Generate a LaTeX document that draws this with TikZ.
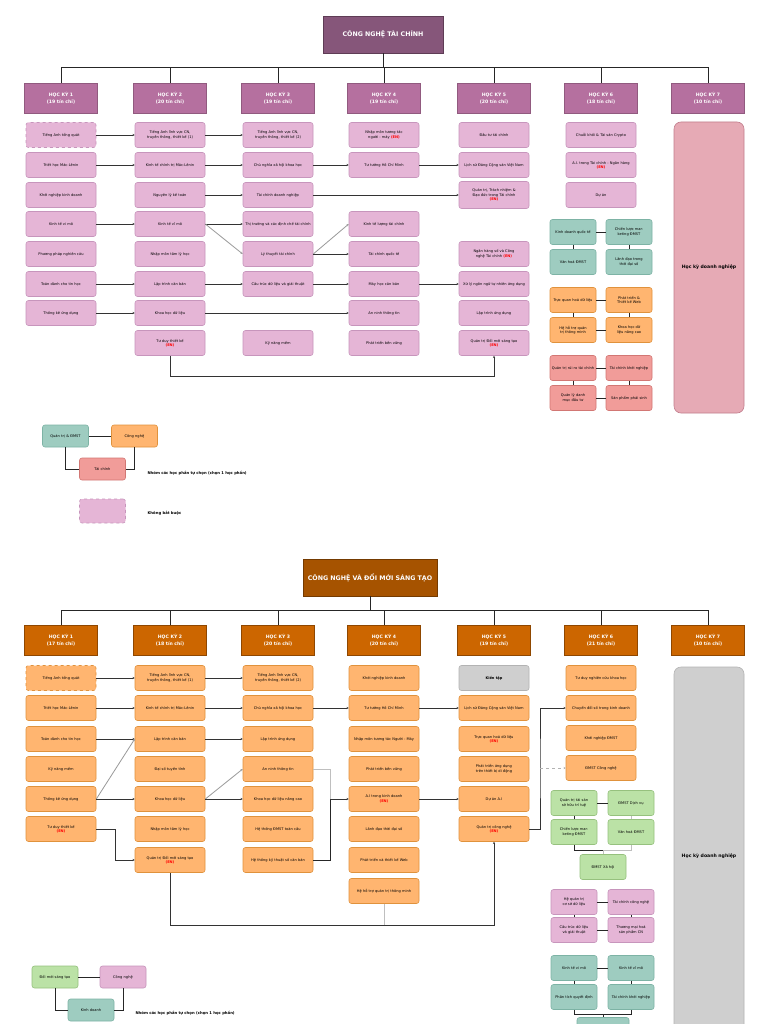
\documentclass[tikz,border=0pt]{standalone}
\usepackage{fontspec}
\setmainfont{DejaVu Sans}
\usetikzlibrary{arrows.meta}
\definecolor{tA}{HTML}{86567A}\definecolor{hA}{HTML}{B5709F}
\definecolor{pk}{HTML}{E5B5D6}\definecolor{pkd}{HTML}{C795BC}
\definecolor{tB}{HTML}{A65300}\definecolor{hB}{HTML}{CC6600}
\definecolor{orf}{HTML}{FFB570}\definecolor{ord}{HTML}{E0923C}
\definecolor{tef}{HTML}{9ECCC0}\definecolor{ted}{HTML}{7DB3A5}
\definecolor{grf}{HTML}{BBE2A6}\definecolor{grd}{HTML}{96C17E}
\definecolor{rdf}{HTML}{F19C99}\definecolor{rdd}{HTML}{D27774}
\definecolor{gyf}{HTML}{CFCFCF}\definecolor{gyd}{HTML}{B3B3B3}
\definecolor{bigA}{HTML}{E6AAB5}\definecolor{bigAd}{HTML}{C27E8D}
\newcommand{\EN}{\textcolor{red}{\textbf{(EN)}}}
\tikzset{
 box/.style={rounded corners=2.5pt, minimum width=70pt, minimum height=25pt, text width=66pt, align=center, inner sep=1pt, font=\fontsize{3.6}{4.4}\selectfont, line width=0.6pt},
 gbox/.style={box, minimum width=46pt, text width=44pt},
 pbox/.style={box, fill=pk, draw=pkd},
 obox/.style={box, fill=orf, draw=ord},
 hdrA/.style={minimum width=70pt, minimum height=30pt, text width=66pt, align=center, fill=hA, draw=hA!80!black, text=white, font=\fontsize{4.6}{7}\selectfont\bfseries, line width=0.5pt},
 hdrB/.style={hdrA, fill=hB, draw=hB!70!black},
 ttl/.style={minimum height=37pt, align=center, text=white, font=\fontsize{6.3}{8}\selectfont\bfseries, line width=0.6pt},
 arr/.style={-{Stealth[length=2.2pt,width=2.2pt]}, line width=0.8pt, draw=black!80},
 garr/.style={arr, draw=black!40},
 ln/.style={line width=0.9pt, draw=black!85},
 gln/.style={line width=0.9pt, draw=black!25},
}
\begin{document}
\begin{tikzpicture}[x=1pt,y=-1pt]
\useasboundingbox (0,0) rectangle (768,1024);
\clip (0,0) rectangle (768,1024);
\fill[white] (0,0) rectangle (768,1024);
% ================= TOP =================
\node[ttl, fill=tA, draw=tA!70!black, minimum width=120pt] (TA) at (383,34.5) {CÔNG NGHỆ TÀI CHÍNH};
\foreach \i/\x/\c in {1/61/19,2/170/20,3/278/19,4/384/19,5/494/20,6/601/18,7/708/10}
  \node[hdrA] (ah\i) at (\x,98) {HỌC KỲ \i\\(\c\ tín chỉ)};
\draw[ln] (TA.south) -- (TA.south |- 0,67);
\draw[ln] (ah1.north) |- (ah7.north |- 0,67) -- (ah7.north);
\foreach \i in {2,...,6} \draw[ln] (ah\i.north) -- (ah\i.north |- 0,67);
% col1
\node[pbox, dashed] (a1r1) at (61,135) {Tiếng Anh tổng quát};
\node[pbox] (a1r2) at (61,165) {Triết học Mác-Lênin};
\node[pbox] (a1r3) at (61,195) {Khởi nghiệp kinh doanh};
\node[pbox] (a1r4) at (61,224) {Kinh tế vi mô};
\node[pbox] (a1r5) at (61,254) {Phương pháp nghiên cứu};
\node[pbox] (a1r6) at (61,284) {Toán dành cho tin học};
\node[pbox] (a1r7) at (61,313) {Thống kê ứng dụng};
% col2
\node[pbox] (a2r1) at (170,135) {Tiếng Anh lĩnh vực CN, truyền thông, thiết kế (1)};
\node[pbox] (a2r2) at (170,165) {Kinh tế chính trị Mác-Lênin};
\node[pbox] (a2r3) at (170,195) {Nguyên lý kế toán};
\node[pbox] (a2r4) at (170,224) {Kinh tế vĩ mô};
\node[pbox] (a2r5) at (170,254) {Nhập môn tâm lý học};
\node[pbox] (a2r6) at (170,284) {Lập trình căn bản};
\node[pbox] (a2r7) at (170,313) {Khoa học dữ liệu};
\node[pbox] (a2r8) at (170,343) {Tư duy thiết kế\\\EN};
% col3
\node[pbox] (a3r1) at (278,135) {Tiếng Anh lĩnh vực CN, truyền thông, thiết kế (2)};
\node[pbox] (a3r2) at (278,165) {Chủ nghĩa xã hội khoa học};
\node[pbox] (a3r3) at (278,195) {Tài chính doanh nghiệp};
\node[pbox] (a3r4) at (278,224) {Thị trường và các định chế tài chính};
\node[pbox] (a3r5) at (278,254) {Lý thuyết tài chính};
\node[pbox] (a3r6) at (278,284) {Cấu trúc dữ liệu và giải thuật};
\node[pbox] (a3r8) at (278,343) {Kỹ năng mềm};
% col4
\node[pbox] (a4r1) at (384,135) {Nhập môn tương tác người - máy \EN};
\node[pbox] (a4r2) at (384,165) {Tư tưởng Hồ Chí Minh};
\node[pbox] (a4r4) at (384,224) {Kinh tế lượng tài chính};
\node[pbox] (a4r5) at (384,254) {Tài chính quốc tế};
\node[pbox] (a4r6) at (384,284) {Máy học căn bản};
\node[pbox] (a4r7) at (384,313) {An ninh thông tin};
\node[pbox] (a4r8) at (384,343) {Phát triển bền vững};
% col5
\node[pbox] (a5r1) at (494,135) {Đầu tư tài chính};
\node[pbox] (a5r2) at (494,165) {Lịch sử Đảng Cộng sản Việt Nam};
\node[pbox, minimum height=27pt] (a5r3) at (494,195) {Quản trị, Trách nhiệm \& Đạo đức trong Tài chính\\\EN};
\node[pbox] (a5r5) at (494,254) {Ngân hàng số và Công nghệ Tài chính \EN};
\node[pbox] (a5r6) at (494,284) {Xử lý ngôn ngữ tự nhiên ứng dụng};
\node[pbox] (a5r7) at (494,313) {Lập trình ứng dụng};
\node[pbox] (a5r8) at (494,343) {Quản trị Đổi mới sáng tạo\\\EN};
% col6
\node[pbox] (a6r1) at (601,135) {Chuỗi khối \& Tài sản Crypto};
\node[pbox] (a6r2) at (601,165) {A.I. trong Tài chính - Ngân hàng\\\EN};
\node[pbox] (a6r3) at (601,195) {Dự án};
% groups
\node[gbox, fill=tef, draw=ted] (g1a) at (573,232) {Kinh doanh quốc tế};
\node[gbox, fill=tef, draw=ted] (g1b) at (629,232) {Chiến lược marketing ĐMST};
\node[gbox, fill=tef, draw=ted] (g1c) at (573,262) {Văn hoá ĐMST};
\node[gbox, fill=tef, draw=ted] (g1d) at (629,262) {Lãnh đạo trong thời đại số};
\node[gbox, fill=orf, draw=ord] (g2a) at (573,300) {Trực quan hoá dữ liệu};
\node[gbox, fill=orf, draw=ord] (g2b) at (629,300) {Phát triển \& Thiết kế Web};
\node[gbox, fill=orf, draw=ord] (g2c) at (573,330) {Hệ hỗ trợ quản trị thông minh};
\node[gbox, fill=orf, draw=ord] (g2d) at (629,330) {Khoa học dữ liệu nâng cao};
\node[gbox, fill=rdf, draw=rdd] (g3a) at (573,368) {Quản trị rủi ro tài chính};
\node[gbox, fill=rdf, draw=rdd] (g3b) at (629,368) {Tài chính khởi nghiệp};
\node[gbox, fill=rdf, draw=rdd] (g3c) at (573,398) {Quản lý danh mục đầu tư};
\node[gbox, fill=rdf, draw=rdd] (g3d) at (629,398) {Sản phẩm phái sinh};
\foreach \g in {g1,g2,g3}{
  \draw[ln] (\g a) -- (\g b); \draw[ln] (\g a) -- (\g c); \draw[ln] (\g b) -- (\g d);}
\draw[ln] (g2c) -- (g2d); \draw[ln] (g3c) -- (g3d);
% col7
\node[box, fill=bigA, draw=bigAd, minimum height=291pt, rounded corners=7pt, font=\fontsize{4.6}{6}\selectfont\bfseries] (a7) at (709,267.5) {Học kỳ doanh nghiệp};
% arrows top
\draw[arr] (a1r1) -- (a2r1); \draw[arr] (a2r1) -- (a3r1);
\draw[arr] (a1r2) -- (a2r2); \draw[arr] (a2r2) -- (a3r2); \draw[arr] (a3r2) -- (a4r2); \draw[arr] (a4r2) -- (a5r2);
\draw[arr] (a2r3) -- (a3r3); \draw[arr] (a3r3) -- (a5r3);
\draw[arr] (a1r4) -- (a2r4); \draw[arr] (a2r4) -- (a3r4); \draw[garr] (a2r4.east) -- (a3r5.west);
\draw[garr] (a3r5.east) -- (a4r4.west); \draw[arr] (a3r5) -- (a4r5);
\draw[arr] (a1r6) -- (a2r6); \draw[arr] (a2r6) -- (a3r6); \draw[arr] (a3r6) -- (a4r6); \draw[arr] (a4r6) -- (a5r6);
\draw[arr] (a1r7) -- (a2r7); \draw[arr] (a2r7) -- (a4r7);
\draw[arr] (a2r8.south) -- ++(0,21) -| (a5r8.south);
% legend top
\node[gbox, fill=tef, draw=ted, minimum height=22pt] (la) at (65.5,436) {Quản trị \& ĐMST};
\node[gbox, fill=orf, draw=ord, minimum height=22pt] (lb) at (134.5,436) {Công nghệ};
\node[gbox, fill=rdf, draw=rdd, minimum height=22pt] (lc) at (102.5,469) {Tài chính};
\draw[ln] (la) -- (lb); \draw[ln] (la.south) |- (lc.west); \draw[ln] (lb.south) |- (lc.east);
\node[anchor=west, font=\fontsize{3.8}{4.5}\selectfont\bfseries] (lt1) at (144,473) {Nhóm các học phần tự chọn (chọn 1 học phần)};
\node[gbox, fill=pk, draw=pkd, dashed, minimum height=24pt] (ld) at (102.5,511) {};
\node[anchor=west, font=\fontsize{3.8}{4.5}\selectfont\bfseries] (lt2) at (144,513) {Không bắt buộc};
% ================= BOTTOM =================
\node[ttl, fill=tB, draw=tB!70!black, minimum width=134pt] (TB) at (370,577.5) {CÔNG NGHỆ VÀ ĐỔI MỚI SÁNG TẠO};
\foreach \i/\x/\c in {1/61/17,2/170/18,3/278/20,4/384/20,5/494/19,6/601/21,7/708/10}
  \node[hdrB] (bh\i) at (\x,640) {HỌC KỲ \i\\(\c\ tín chỉ)};
\draw[ln] (TB.south) -- (TB.south |- 0,610);
\draw[ln] (bh1.north) |- (bh7.north |- 0,610) -- (bh7.north);
\foreach \i in {2,...,6} \draw[ln] (bh\i.north) -- (bh\i.north |- 0,610);
% col1
\node[obox, dashed] (b1r1) at (61,678) {Tiếng Anh tổng quát};
\node[obox] (b1r2) at (61,708) {Triết học Mác-Lênin};
\node[obox] (b1r3) at (61,739) {Toán dành cho tin học};
\node[obox] (b1r4) at (61,769) {Kỹ năng mềm};
\node[obox] (b1r5) at (61,799) {Thống kê ứng dụng};
\node[obox] (b1r6) at (61,829) {Tư duy thiết kế\\\EN};
% col2
\node[obox] (b2r1) at (170,678) {Tiếng Anh lĩnh vực CN, truyền thông, thiết kế (1)};
\node[obox] (b2r2) at (170,708) {Kinh tế chính trị Mác-Lênin};
\node[obox] (b2r3) at (170,739) {Lập trình căn bản};
\node[obox] (b2r4) at (170,769) {Đại số tuyến tính};
\node[obox] (b2r5) at (170,799) {Khoa học dữ liệu};
\node[obox] (b2r6) at (170,829) {Nhập môn tâm lý học};
\node[obox] (b2r7) at (170,860) {Quản trị Đổi mới sáng tạo\\\EN};
% col3
\node[obox] (b3r1) at (278,678) {Tiếng Anh lĩnh vực CN, truyền thông, thiết kế (2)};
\node[obox] (b3r2) at (278,708) {Chủ nghĩa xã hội khoa học};
\node[obox] (b3r3) at (278,739) {Lập trình ứng dụng};
\node[obox] (b3r4) at (278,769) {An ninh thông tin};
\node[obox] (b3r5) at (278,799) {Khoa học dữ liệu nâng cao};
\node[obox] (b3r6) at (278,829) {Hệ thống ĐMST toàn cầu};
\node[obox] (b3r7) at (278,860) {Hệ thống kỹ thuật số căn bản};
% col4
\node[obox] (b4r1) at (384,678) {Khởi nghiệp kinh doanh};
\node[obox] (b4r2) at (384,708) {Tư tưởng Hồ Chí Minh};
\node[obox] (b4r3) at (384,739) {Nhập môn tương tác Người - Máy};
\node[obox] (b4r4) at (384,769) {Phát triển bền vững};
\node[obox] (b4r5) at (384,799) {A.I trong kinh doanh\\\EN};
\node[obox] (b4r6) at (384,829) {Lãnh đạo thời đại số};
\node[obox] (b4r7) at (384,860) {Phát triển và thiết kế Web};
\node[obox] (b4r8) at (384,891) {Hệ hỗ trợ quản trị thông minh};
% col5
\node[box, fill=gyf, draw=gyd, font=\fontsize{3.6}{4.4}\selectfont\bfseries] (b5r1) at (494,678) {Kiến tập};
\node[obox] (b5r2) at (494,708) {Lịch sử Đảng Cộng sản Việt Nam};
\node[obox] (b5r3) at (494,739) {Trực quan hoá dữ liệu\\\EN};
\node[obox] (b5r4) at (494,769) {Phát triển ứng dụng trên thiết bị di động};
\node[obox] (b5r5) at (494,799) {Dự án A.I};
\node[obox] (b5r6) at (494,829) {Quản trị công nghệ\\\EN};
% col6
\node[obox] (b6r1) at (601,678) {Tư duy nghiên cứu khoa học};
\node[obox] (b6r2) at (601,708) {Chuyển đổi số trong kinh doanh};
\node[obox] (b6r3) at (601,738) {Khởi nghiệp ĐMST};
\node[obox] (b6r4) at (601,768) {ĐMST Công nghệ};
% groups bottom
\node[gbox, fill=grf, draw=grd] (h1a) at (574,803) {Quản trị tài sản sở hữu trí tuệ};
\node[gbox, fill=grf, draw=grd] (h1b) at (631,803) {ĐMST Dịch vụ};
\node[gbox, fill=grf, draw=grd] (h1c) at (574,832) {Chiến lược marketing ĐMST};
\node[gbox, fill=grf, draw=grd] (h1d) at (631,832) {Văn hoá ĐMST};
\node[gbox, fill=grf, draw=grd] (h1e) at (603,867) {ĐMST Xã hội};
\draw[ln] (h1a) -- (h1b); \draw[ln] (h1a) -- (h1c); \draw[gln] (h1b) -- (h1d);
\draw[ln] (h1c.south) -- ++(0,6) -| (h1e.north); \draw[gln] (h1d.south) -- ++(0,6) -| (h1e.north);
\node[gbox, fill=pk, draw=pkd] (h2a) at (574,902) {Hệ quản trị cơ sở dữ liệu};
\node[gbox, fill=pk, draw=pkd] (h2b) at (631,902) {Tài chính công nghệ};
\node[gbox, fill=pk, draw=pkd] (h2c) at (574,930) {Cấu trúc dữ liệu và giải thuật};
\node[gbox, fill=pk, draw=pkd] (h2d) at (631,930) {Thương mại hoá sản phẩm CN};
\draw[ln] (h2a) -- (h2b); \draw[ln] (h2a) -- (h2c); \draw[ln] (h2b) -- (h2d); \draw[ln] (h2c) -- (h2d);
\node[gbox, fill=tef, draw=ted] (h3a) at (574,968) {Kinh tế vi mô};
\node[gbox, fill=tef, draw=ted] (h3b) at (631,968) {Kinh tế vĩ mô};
\node[gbox, fill=tef, draw=ted] (h3c) at (574,997) {Phân tích quyết định};
\node[gbox, fill=tef, draw=ted] (h3d) at (631,997) {Tài chính khởi nghiệp};
\node[gbox, fill=tef, draw=ted, minimum width=52pt] (h3e) at (603,1030) {};
\draw[ln] (h3a) -- (h3b); \draw[ln] (h3a) -- (h3c); \draw[ln] (h3b) -- (h3d);
\draw[ln] (h3c.south) -- ++(0,5) -| (h3e.north); \draw[ln] (h3d.south) -- ++(0,5) -| (h3e.north);
% col7
\node[box, fill=gyf, draw=gyd, minimum height=380pt, rounded corners=7pt, font=\fontsize{4.6}{6}\selectfont\bfseries] (b7) at (709,857) {};
\node[font=\fontsize{4.6}{6}\selectfont\bfseries] (b7t) at (709,856) {Học kỳ doanh nghiệp};
% arrows bottom
\draw[arr] (b1r1) -- (b2r1); \draw[arr] (b2r1) -- (b3r1);
\draw[arr] (b1r2) -- (b2r2); \draw[arr] (b2r2) -- (b3r2); \draw[arr] (b3r2) -- (b4r2); \draw[arr] (b4r2) -- (b5r2);
\draw[arr] (b1r3) -- (b2r3); \draw[arr] (b2r3) -- (b3r3);
\draw[garr] (b1r5.east) -- (b2r3.west); \draw[arr] (b1r5) -- (b2r5);
\draw[garr] (b2r5.east) -- (b3r4.west); \draw[arr] (b2r5) -- (b3r5);
\draw[arr] (b1r6.east) -- (115,829) |- (b2r7.west);
\coordinate (j1) at (330,799);
\draw[gln] (b3r4.east) -| (j1);
\draw[ln] (b3r7.east) -| (j1);
\draw[arr] (j1) -- (b4r5.west);
\draw[arr] (b4r5) -- (b5r5);
\coordinate (j2) at (540,768);
\draw[arr] (b5r6.east) -| (j2) |- (b6r2.west);
\draw[arr, draw=black!30, dashed] (j2) -- (b6r4.west);
\draw[gln] (b4r8.south) -- (b4r8.south |- 0,925);
\draw[arr] (b2r7.south) |- (494,925) -- (b5r6.south);
% legend bottom
\node[gbox, fill=grf, draw=grd, minimum height=22pt] (ma) at (55,977) {Đổi mới sáng tạo};
\node[gbox, fill=pk, draw=pkd, minimum height=22pt] (mb) at (123,977) {Công nghệ};
\node[gbox, fill=tef, draw=ted, minimum height=22pt] (mc) at (91,1010) {Kinh doanh};
\draw[ln] (ma) -- (mb); \draw[ln] (ma.south) |- (mc.west); \draw[ln] (mb.south) |- (mc.east);
\node[anchor=west, font=\fontsize{3.8}{4.5}\selectfont\bfseries] (lt3) at (132,1013) {Nhóm các học phần tự chọn (chọn 1 học phần)};
\end{tikzpicture}
\end{document}
